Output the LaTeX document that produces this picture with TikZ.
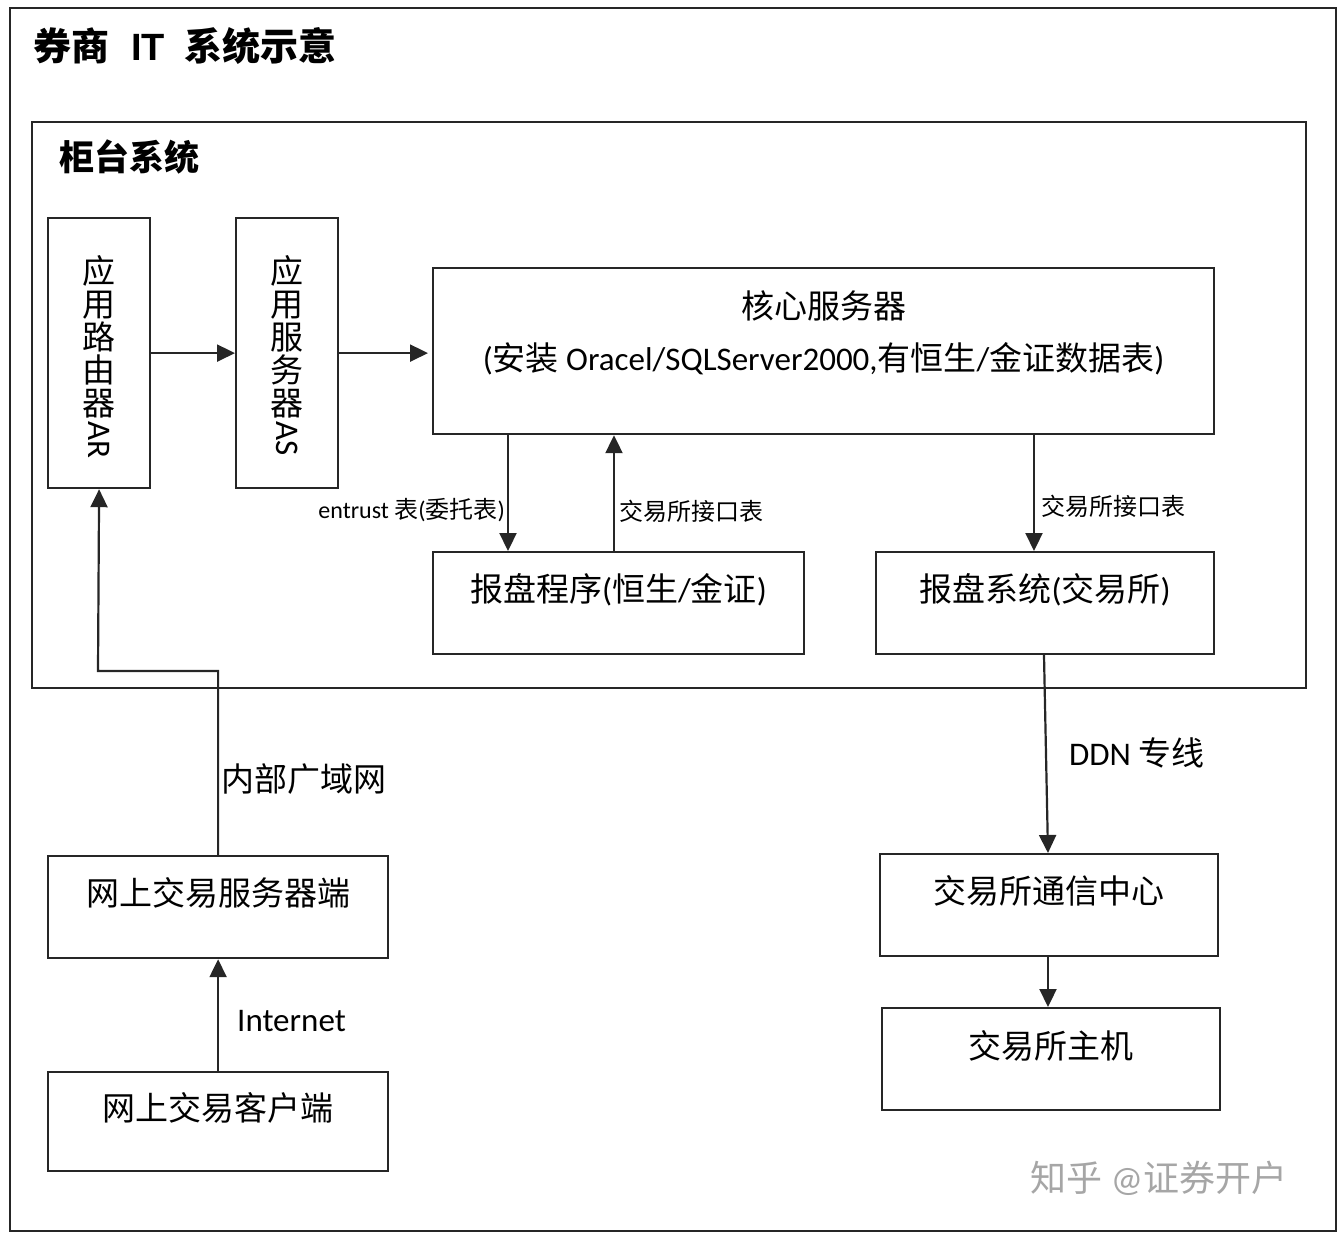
\documentclass[tikz,border=0pt]{standalone}
\usepackage{fontspec}
\setmainfont{Noto Sans CJK SC}
\newfontfamily\latfont{Carlito}
\newfontfamily\arialfont{Liberation Sans}
\usepackage{tikz}
\usetikzlibrary{arrows.meta, positioning}
\newcommand{\en}[1]{{\latfont #1}}

\begin{document}
\begin{tikzpicture}[x=1pt, y=-1pt,
				->,
				>={Triangle[length=18pt, width=17pt]},
				line width=2.2pt,
				draw=black!85,
				box/.style={draw=black!85, -, rectangle, anchor=north west, inner sep=0pt, align=center,
					font=\fontsize{33pt}{33pt}\selectfont},
				frame/.style={draw=black!85, -, rectangle, anchor=north west, inner sep=0pt},
				tag/.style={font=\fontsize{33pt}{33pt}\selectfont, inner sep=2pt},
				smalltag/.style={font=\fontsize{24pt}{24pt}\selectfont, inner sep=2pt}]
				\useasboundingbox (0,0) rectangle (1341,1232);
				\node at (9,7) (frame) [frame, minimum width=1326pt, minimum height=1223pt] {};
				\node at (31,121) (counter) [frame, minimum width=1274pt, minimum height=566pt] {};
				\node at (32,46) (title) [anchor=west, inner sep=0pt, font=\fontsize{38pt}{38pt}\selectfont\bfseries] {券商\hspace{22pt}{\arialfont IT}\hspace{20pt}系统示意};
				\node at (58,157) (ctitle) [anchor=west, inner sep=0pt, font=\fontsize{35pt}{35pt}\selectfont\bfseries] {柜台系统};
				\node at (47,217) (ar) [box, minimum width=102pt, text height=203pt, text depth=67pt] {应\\用\\路\\由\\器\\[-27pt]\rotatebox{-90}{\en{AR}}};
				\node at (235,217) (as) [box, minimum width=102pt, text height=203pt, text depth=67pt] {应\\用\\服\\务\\器\\[-27pt]\rotatebox{-90}{\en{AS}}};
				\node at (432,267) (core) [box, minimum width=781pt, text height=102.5pt, text depth=63.5pt,
					font=\fontsize{33pt}{52pt}\selectfont] {核心服务器\\\en{(}安装 \en{Oracel/SQLServer2000,}有恒生\en{/}金证数据表\en{)}};
				\node at (432,551) (bpcx) [box, minimum width=371pt, text height=49.5pt, text depth=52.5pt] {报盘程序\en{(}恒生\en{/}金证\en{)}};
				\node at (875,551) (bpxt) [box, minimum width=338pt, text height=49.5pt, text depth=52.5pt] {报盘系统\en{(}交易所\en{)}};
				\node at (47,855) (wsrv) [box, minimum width=340pt, text height=49.5pt, text depth=52.5pt] {网上交易服务器端};
				\node at (47,1071) (wcli) [box, minimum width=340pt, text height=48.5pt, text depth=50.5pt] {网上交易客户端};
				\node at (879,853) (txzx) [box, minimum width=338pt, text height=49.5pt, text depth=52.5pt] {交易所通信中心};
				\node at (881,1007) (host) [box, minimum width=338pt, text height=50.5pt, text depth=51.5pt] {交易所主机};
				\node at (1159,1178) (mark) [inner sep=0pt, text=black!35, font=\fontsize{36pt}{36pt}\selectfont] {知乎 \en{@}证券开户};
				\coordinate (bend) at (98,671);
				\draw[->] (ar) -- (as);
				\draw[->, shorten >=4pt] (as.east) -- (as.east -| core.west);
				\draw[->] ([xshift=76pt]core.south west) -- node[pos=0.65, left, smalltag] {\en{entrust} 表\en{(}委托表\en{)}} ([xshift=76pt]bpcx.north west);
				\draw[->] ([xshift=182pt]bpcx.north west) -- node[pos=0.34, right, smalltag, xshift=2pt] {交易所接口表} ([xshift=182pt]core.south west);
				\draw[->] ([xshift=602pt]core.south west) -- node[pos=0.61, right, smalltag, xshift=4pt] {交易所接口表} ([xshift=159pt]bpxt.north west);
				\draw[->] ([xshift=169pt]bpxt.south west) -- node[pos=0.495, right, tag, xshift=20pt] {\en{DDN} 专线} ([xshift=169pt]txzx.north west);
				\draw[->] ([xshift=169pt]txzx.south west) -- ([xshift=167pt]host.north west);
				\draw[->] (wcli) -- node[pos=0.447, right, tag, xshift=16pt] {\en{Internet}} (wsrv);
				\draw[->] (wsrv.north) |- node[pos=0.207, right, tag] {内部广域网} (bend) -- (ar.south);
			\end{tikzpicture}
\end{document}
